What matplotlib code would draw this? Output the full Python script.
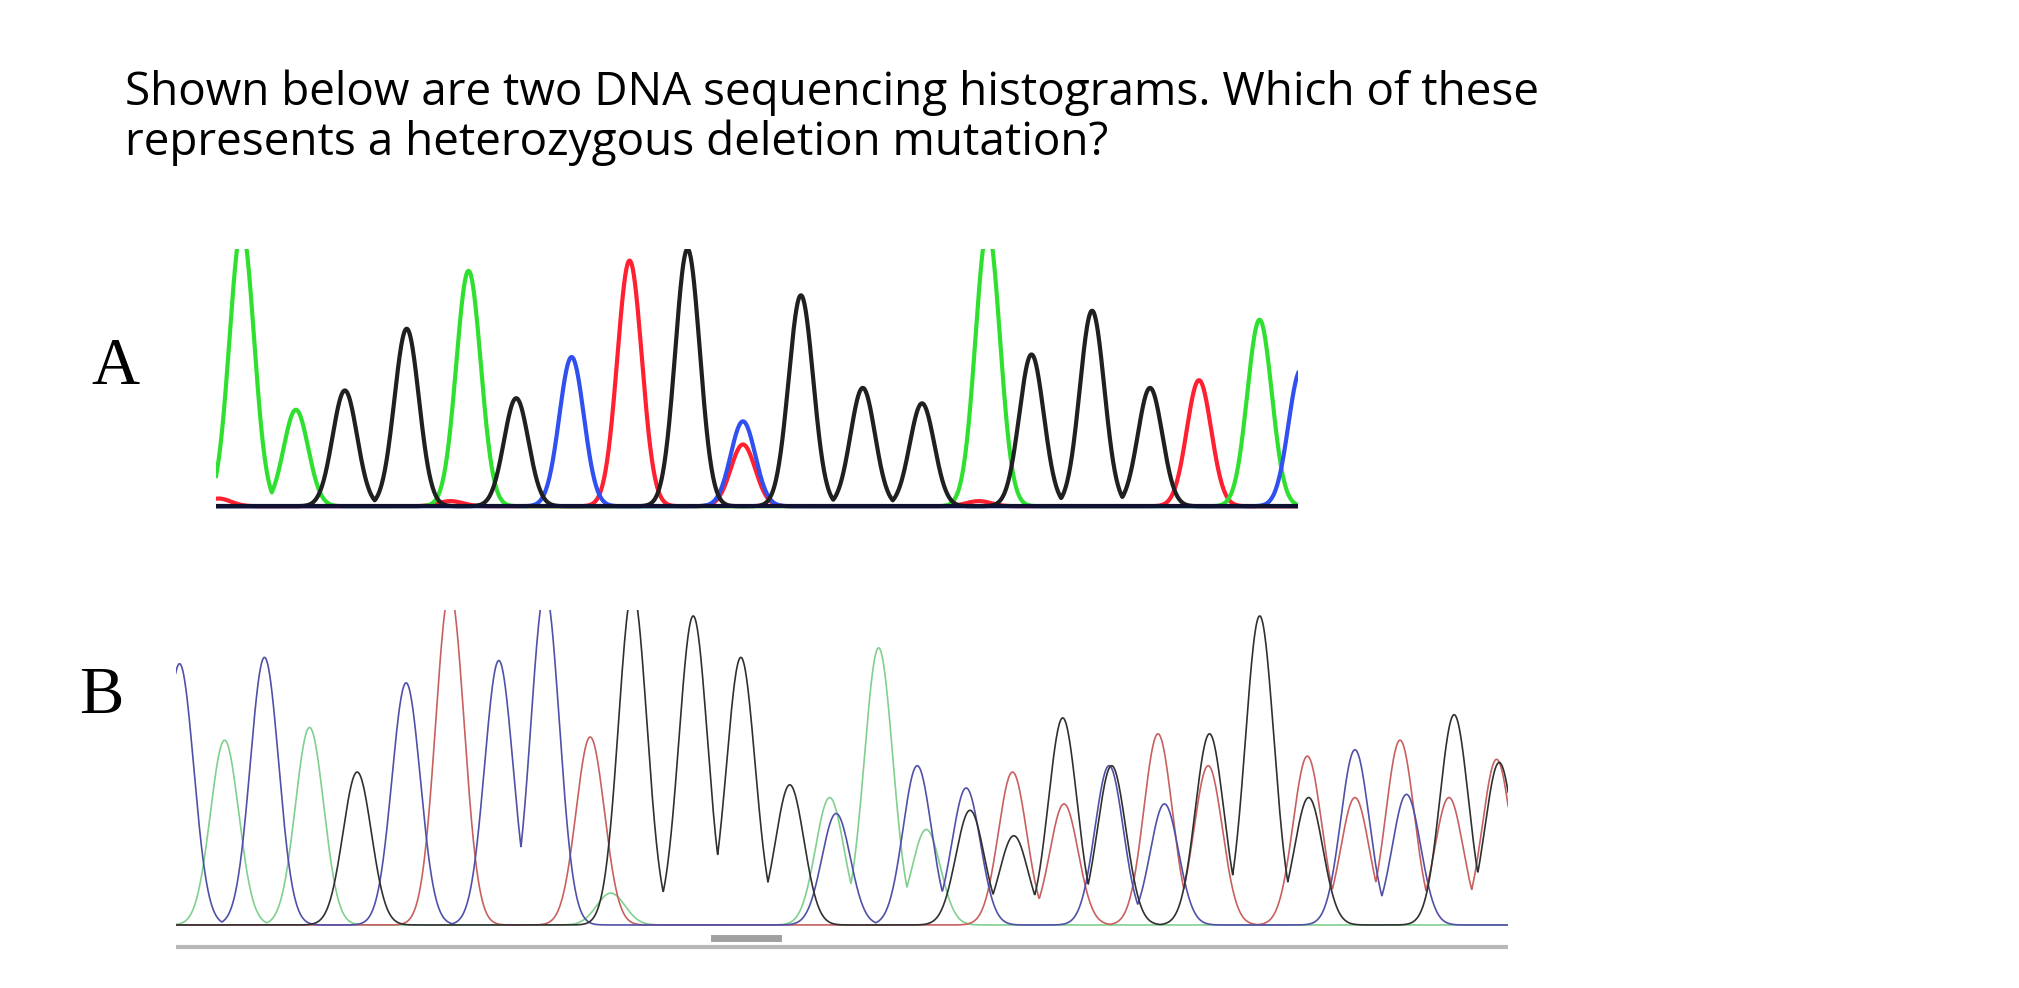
import numpy as np
import matplotlib.pyplot as plt

titulo = ("Shown below are two DNA sequencing histograms. Which of these\n"
          "represents a heterozygous deletion mutation?")

# Panel A: picos (posición, altura) por color
a_verde = [(188, 1.08), (230, 0.375), (364, 0.915), (767, 1.08), (978, 0.725)]
a_negro = [(268, 0.45), (316, 0.69), (401, 0.42), (534, 1.0), (622, 0.82), (670, 0.46),
           (716, 0.40), (801, 0.59), (848, 0.76), (893, 0.46)]
a_rojo = [(170, 0.03), (350, 0.02), (489, 0.955), (577, 0.24), (760, 0.02), (931, 0.49)]
a_azul = [(444, 0.58), (577, 0.33), (1010, 0.53)]

# Panel B
b_azul = [(140, 0.82), (206, 0.84), (316, 0.76), (388, 0.83), (424, 1.05), (650, 0.35),
          (713, 0.50), (751, 0.43), (862, 0.50), (905, 0.38), (1053, 0.55), (1093, 0.41)]
b_verde = [(175, 0.58), (241, 0.62), (475, 0.1), (645, 0.4), (683, 0.87), (720, 0.3)]
b_negro = [(278, 0.48), (492, 1.05), (539, 0.97), (576, 0.84), (614, 0.44), (754, 0.36),
           (788, 0.28), (826, 0.65), (864, 0.50), (940, 0.60), (979, 0.97), (1017, 0.40),
           (1130, 0.66), (1165, 0.51)]
b_rojo = [(350, 1.05), (459, 0.59), (787, 0.48), (827, 0.38), (900, 0.60), (939, 0.50),
          (1016, 0.53), (1053, 0.40), (1088, 0.58), (1126, 0.40), (1163, 0.52)]


def traza(x, picos, sigma):
    y = np.zeros_like(x)
    for c, h in picos:
        y = np.maximum(y, h * np.exp(-0.5 * ((x - c) / sigma) ** 2))
    return y


fig = plt.figure(figsize=(20.19, 9.88), dpi=100)
fig.text(0.062, 0.93, titulo, fontsize=33, family=["Open Sans", "DejaVu Sans"],
         va="top", ha="left", linespacing=1.1)
fig.text(0.057, 0.628, "A", fontsize=48, family="Liberation Serif", ha="center", va="center")
fig.text(0.050, 0.295, "B", fontsize=48, family="Liberation Serif", ha="center", va="center")

# --- Panel A ---
axA = fig.add_axes([0.107, 0.485, 0.536, 0.263])
xa = np.linspace(168, 1008, 2000)
for picos, col in [(a_rojo, "#ff2030"), (a_verde, "#30e030"), (a_azul, "#3050f0"), (a_negro, "#202020")]:
    axA.plot(xa, traza(xa, picos, 9.5), color=col, lw=3)
axA.axhline(0, color="#101030", lw=3)
axA.set_xlim(168, 1008)
axA.set_ylim(-0.01, 1.0)
axA.axis("off")

# --- Panel B ---
axB = fig.add_axes([0.087, 0.038, 0.66, 0.345])
xb = np.linspace(137, 1172, 3000)
for picos, col in [(b_verde, "#80d090"), (b_rojo, "#c86060"), (b_azul, "#5050a8"), (b_negro, "#303030")]:
    axB.plot(xb, traza(xb, picos, 11) + 0.01, color=col, lw=1.2)
axB.axhline(-0.06, color="#b8b8b8", lw=3)
axB.plot([555, 605], [-0.03, -0.03], color="#a0a0a0", lw=5)
axB.set_xlim(137, 1172)
axB.set_ylim(-0.07, 1.0)
axB.axis("off")

fig.savefig("out.png", dpi=100)
